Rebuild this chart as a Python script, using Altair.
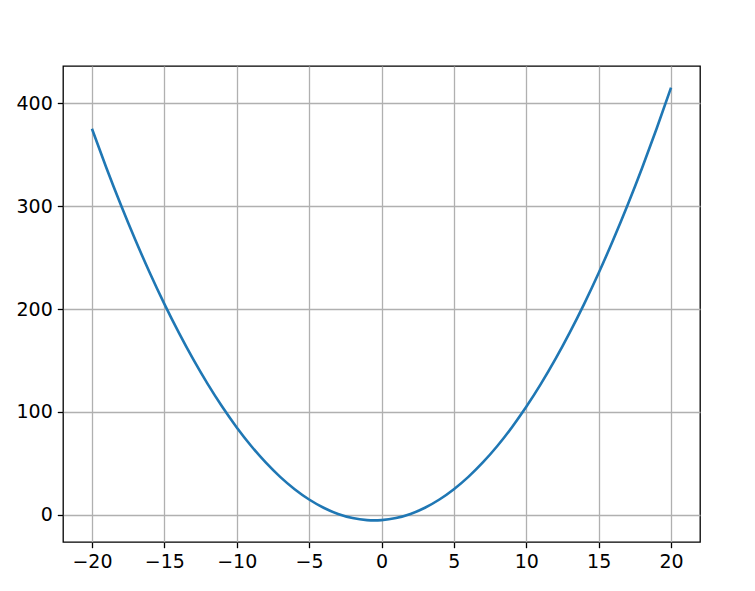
import altair as alt
import pandas as pd

xs = [-20, -19, -18, -17, -16, -15, -14, -13, -12, -11, -10, -9, -8, -7, -6, -5,
      -4, -3, -2, -1, -0.5, 0, 1, 2, 3, 4, 5, 6, 7, 8, 9, 10, 11, 12, 13, 14, 15,
      16, 17, 18, 19, 20]
ys = [375, 337, 301, 267, 235, 205, 177, 151, 127, 105, 85, 67, 51, 37, 25, 15,
      7, 1, -3, -5, -5.25, -5, -3, 1, 7, 15, 25, 37, 51, 67, 85, 105, 127, 151, 177, 205, 235,
      267, 301, 337, 375, 415]
x_ticks = [-20, -15, -10, -5, 0, 5, 10, 15, 20]
y_ticks = [0, 100, 200, 300, 400]

df = pd.DataFrame({"x": xs, "y": ys})

axis_common = dict(
    grid=True, gridColor="#b0b0b0", gridWidth=1.3,
    domain=False, ticks=True, tickColor="black", tickWidth=1.3, tickSize=5.7,
    labelFont="DejaVu Sans", labelFontSize=19, labelColor="black",
    title=None,
)

chart = alt.Chart(df).mark_line(color="#1f77b4", strokeWidth=2.6, interpolate="monotone").encode(
    x=alt.X("x:Q", scale=alt.Scale(domain=[-22, 22], nice=False, zero=False),
            axis=alt.Axis(values=x_ticks, labelPadding=5, **axis_common)),
    y=alt.Y("y:Q", scale=alt.Scale(domain=[-26.26, 436.01], nice=False, zero=False),
            axis=alt.Axis(values=y_ticks, labelPadding=5, **axis_common)),
).properties(
    width=637, height=476,
    autosize=alt.AutoSizeParams(type="none"),
    padding={"left": 55, "top": 58, "right": 20, "bottom": 45},
).configure_view(stroke="black", strokeWidth=1.3)

chart.save("out.html", embed_options={"renderer": "svg", "actions": False})
